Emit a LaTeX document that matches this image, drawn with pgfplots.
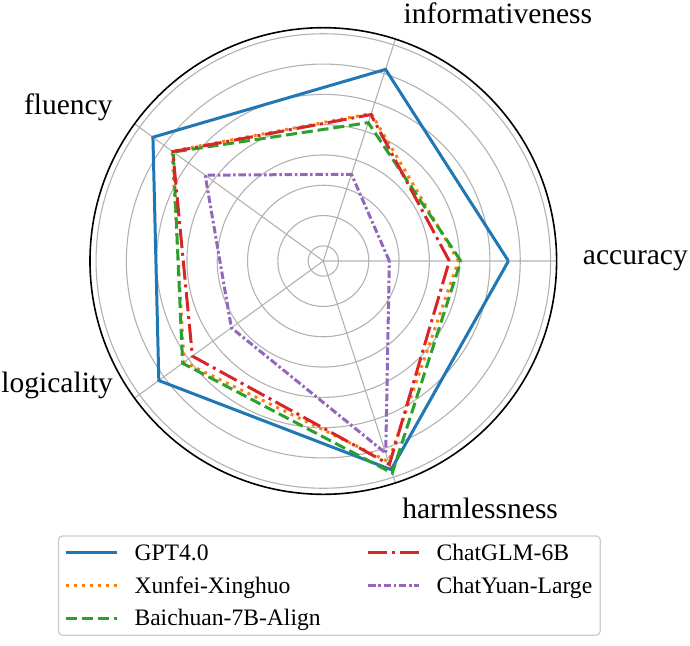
\documentclass[border=0pt]{standalone}
\usepackage{fontspec}
\setmainfont{Liberation Serif}
\usepackage{pgfplots}
\usepgfplotslibrary{polar}
\pgfplotsset{compat=1.18}
\definecolor{cblue}{HTML}{1F77B4}
\definecolor{corange}{HTML}{FF7F0E}
\definecolor{cgreen}{HTML}{2CA02C}
\definecolor{cred}{HTML}{D62728}
\definecolor{cpurple}{HTML}{9467BD}
\tikzset{
  sgpt/.style={cblue, line width=3pt},
  sxun/.style={corange, line width=3pt, dash pattern=on 3pt off 5pt},
  sbai/.style={cgreen, line width=3pt, dash pattern=on 11.1pt off 4.8pt},
  sglm/.style={cred, line width=3pt, dash pattern=on 19.2pt off 4.8pt on 3pt off 4.8pt},
  syuan/.style={cpurple, line width=3pt, dash pattern=on 7.5pt off 2.7pt on 2.5pt off 2.7pt},
}
\begin{document}
\begin{tikzpicture}
\useasboundingbox (-323.3pt,-384pt) rectangle (366.7pt,261pt);
\begin{polaraxis}[
  at={(0pt,0pt)}, anchor=center,
  scale only axis, width=466.6pt, height=466.6pt,
  xmin=0, xmax=360, ymin=0, ymax=7.7,
  xtick={0,72,144,216,288}, xticklabels={},
  ytick={0.5,1.5,2.5,3.5,4.5,5.5,6.5,7.5}, yticklabels={},
  major tick length=0pt,
  grid=major, major grid style={color=black!30, line width=1.1pt},
  separate axis lines,
  x axis line style={black, line width=1.6pt},
  y axis line style={draw=none},
  clip=false,
  legend columns=2,
  legend cell align=left,
  legend image code/.code={\draw[#1] (0pt,0pt) -- (51pt,0pt);},
  legend style={at={(0.513,-0.088)}, anchor=north, draw=black!20, line width=1.2pt,
    rounded corners=4pt, font=\fontsize{23.6}{28}\selectfont, row sep=10.7pt,
    inner xsep=6pt, inner ysep=6pt,
    /tikz/every odd column/.append style={column sep=14pt},
    /tikz/every even column/.append style={column sep=44pt}},
]
\addplot[sgpt, forget plot] coordinates {(0,6.11) (72,6.65) (144,6.95) (216,6.71) (288,7.24) (360,6.11)};
\addplot[sxun, forget plot] coordinates {(0,4.46) (72,5.12) (144,6.17) (216,5.68) (288,6.96) (360,4.46)};
\addplot[sbai, forget plot] coordinates {(0,4.54) (72,4.80) (144,6.12) (216,5.74) (288,7.36) (360,4.54)};
\addplot[sglm, forget plot] coordinates {(0,4.16) (72,5.08) (144,6.14) (216,5.34) (288,7.06) (360,4.16)};
\addplot[syuan, forget plot] coordinates {(0,2.18) (72,3.01) (144,4.82) (216,3.75) (288,6.67) (360,2.18)};
\addlegendimage{sgpt}
\addlegendentry{GPT4.0}
\addlegendimage{sglm}
\addlegendentry{ChatGLM-6B}
\addlegendimage{sxun}
\addlegendentry{Xunfei-Xinghuo}
\addlegendimage{syuan}
\addlegendentry{ChatYuan-Large}
\addlegendimage{sbai}
\addlegendentry{Baichuan-7B-Align}
\node[font=\fontsize{29.5}{34}\selectfont] at (axis cs:0,10.3) {accuracy};
\node[font=\fontsize{29.5}{34}\selectfont] at (axis cs:54.8,10.0) {informativeness};
\node[font=\fontsize{29.5}{34}\selectfont] at (axis cs:148.9,9.83) {fluency};
\node[font=\fontsize{29.5}{34}\selectfont] at (axis cs:205,9.69) {logicality};
\node[font=\fontsize{29.5}{34}\selectfont] at (axis cs:302.4,9.66) {harmlessness};
\end{polaraxis}
\end{tikzpicture}
\end{document}
